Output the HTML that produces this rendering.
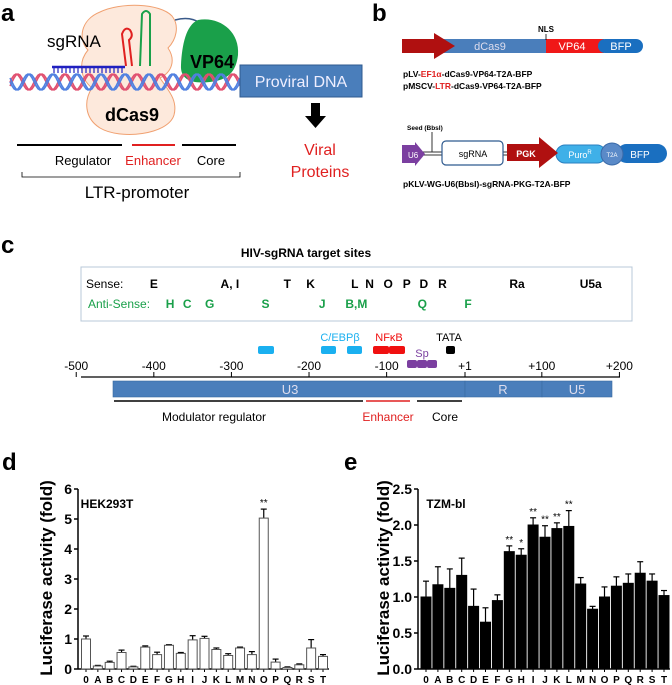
<!DOCTYPE html>
<html><head><meta charset="utf-8"><style>
html,body{margin:0;padding:0;background:#fff}
svg{display:block;font-family:"Liberation Sans",Arial,sans-serif}
.b{font-weight:bold}
</style></head><body>
<svg id="fig" width="672" height="685" viewBox="0 0 672 685" xmlns="http://www.w3.org/2000/svg">
<!-- Panel a -->
<g>
<text x="1" y="21" font-size="24" class="b">a</text>
<path d="M100,12 C120,2 160,3 172,16 C180,26 176,40 168,48 C176,60 172,72 160,78 C168,90 178,100 174,115 C168,135 120,140 100,128 C84,118 84,100 92,88 C80,78 78,62 88,50 C78,40 80,20 100,12 Z" fill="#fde9dc" stroke="#f0a070" stroke-width="1"/>
<path d="M175,20 Q190,16 200,23" fill="none" stroke="#3a5a8a" stroke-width="1.5"/>
<path d="M198,20 C218,16 240,30 238,55 C236,72 228,80 210,82 C192,84 180,80 181,65 C182,45 186,25 198,20 Z" fill="#1aa04a"/>
<text x="212" y="68" font-size="18" class="b" text-anchor="middle">VP64</text>
<text x="47" y="47" font-size="17">sgRNA</text>
<text x="132" y="121" font-size="18" class="b" text-anchor="middle">dCas9</text>
<g>
<path d="M126,66 L122,34 Q125,26 130,30 Q134,36 129,40 L132,66" fill="none" stroke="#e02020" stroke-width="2"/>
<path d="M140,66 L142,14 Q146,8 150,14 L150,66" fill="none" stroke="#1aa04a" stroke-width="2"/>
</g>
<line x1="52" y1="67" x2="125" y2="67" stroke="#2020c0" stroke-width="2.5"/>
<g id="comb"></g>
<g id="helix"></g>
<rect x="240" y="65" width="122" height="32" fill="#4a7ebb" stroke="#2f5a8f"/>
<text x="301" y="87" font-size="16" fill="#eef" text-anchor="middle">Proviral DNA</text>
<path d="M311,103 h9 v13 h6 l-10.5,12 l-10.5,-12 h6 Z" fill="#000"/>
<text x="320" y="155" font-size="16" fill="#e02020" text-anchor="middle">Viral</text>
<text x="320" y="177" font-size="16" fill="#e02020" text-anchor="middle">Proteins</text>
<line x1="17" y1="145" x2="122" y2="145" stroke="#000" stroke-width="2"/>
<line x1="132" y1="145" x2="175" y2="145" stroke="#e02020" stroke-width="2"/>
<line x1="182" y1="145" x2="236" y2="145" stroke="#000" stroke-width="2"/>
<text x="83" y="165" font-size="13" text-anchor="middle">Regulator</text>
<text x="153" y="165" font-size="13" fill="#e02020" text-anchor="middle">Enhancer</text>
<text x="211" y="165" font-size="13" text-anchor="middle">Core</text>
<path d="M22,172 v5 h218 v-5" fill="none" stroke="#000" stroke-width="0.8"/>
<text x="137" y="198" font-size="17" text-anchor="middle">LTR-promoter</text>
</g>
<!-- Panel b -->
<g>
<text x="372" y="21" font-size="24" class="b">b</text>
<rect x="440" y="39" width="110" height="14" fill="#4a7ebb"/>
<text x="490" y="50" font-size="11" fill="#dde" text-anchor="middle">dCas9</text>
<rect x="546" y="39" width="58" height="14" fill="#f01818"/>
<text x="572" y="50" font-size="11" fill="#fff" text-anchor="middle">VP64</text>
<rect x="598" y="39" width="45" height="14" rx="7" fill="#1a6fc0"/>
<text x="621" y="50" font-size="11" fill="#fff" text-anchor="middle">BFP</text>
<path d="M402,39 h32 v-6 l21,13 l-21,13 v-6 h-32 Z" fill="#b01010"/>
<line x1="546" y1="34" x2="546" y2="40" stroke="#000" stroke-width="0.8"/>
<text x="546" y="32" font-size="8" class="b" text-anchor="middle">NLS</text>
<text x="403" y="77" font-size="8.5" class="b">pLV-<tspan fill="#e02020">EF1α</tspan>-dCas9-VP64-T2A-BFP</text>
<text x="403" y="89" font-size="8.5" class="b">pMSCV-<tspan fill="#e02020">LTR</tspan>-dCas9-VP64-T2A-BFP</text>
<text x="407" y="130" font-size="6.5" class="b">Seed (BbsI)</text>
<line x1="432" y1="132" x2="432" y2="152" stroke="#000" stroke-width="0.8"/>
<line x1="420" y1="152" x2="442" y2="152" stroke="#333" stroke-width="1"/>
<line x1="420" y1="155" x2="442" y2="155" stroke="#333" stroke-width="1"/>
<line x1="503" y1="152" x2="507" y2="152" stroke="#333" stroke-width="1"/>
<line x1="503" y1="155" x2="507" y2="155" stroke="#333" stroke-width="1"/>
<path d="M402,145 h13 v-3 l10,12 l-10,12 v-3 h-13 Z" fill="#7b3fa0"/>
<text x="408" y="158" font-size="8" fill="#fff">U6</text>
<rect x="442" y="141" width="61" height="24" rx="4" fill="#fff" stroke="#2f5a8f" stroke-width="1.2"/>
<text x="473" y="157" font-size="9" text-anchor="middle">sgRNA</text>
<rect x="556" y="145" width="50" height="18" rx="9" fill="#3fb0e8" stroke="#2a7fc0"/>
<text x="580" y="158" font-size="9" fill="#fff" text-anchor="middle">Puro<tspan font-size="6" dy="-4">R</tspan></text>
<rect x="617" y="144" width="50" height="19" rx="9.5" fill="#1a6fc0"/>
<text x="640" y="158" font-size="10" fill="#fff" text-anchor="middle">BFP</text>
<circle cx="612" cy="154" r="11" fill="#5a8ac8" stroke="#3a6aa8"/>
<text x="612" y="157" font-size="6" fill="#fff" text-anchor="middle">T2A</text>
<path d="M507,144 h32 v-7 l19,16 l-19,15 v-7 h-32 Z" fill="#b01010"/>
<text x="526" y="157" font-size="9" class="b" fill="#fff" text-anchor="middle">PGK</text>
<text x="403" y="187" font-size="8.5" class="b">pKLV-WG-U6(BbsI)-sgRNA-PKG-T2A-BFP</text>
</g>
<!-- Panel c -->
<g>
<text x="1" y="253" font-size="24" class="b">c</text>
<text x="306" y="257" font-size="12" class="b" text-anchor="middle">HIV-sgRNA target sites</text>
<rect x="81" y="267" width="551" height="54" fill="#fff" stroke="#b8c8d8"/>
<text x="86" y="288" font-size="12">Sense:</text>
<text x="88" y="308" font-size="12" fill="#1aa04a">Anti-Sense:</text>
<g id="sites"></g>
<g>
<rect x="258" y="346" width="16" height="8" rx="2" fill="#1ab0f0"/>
<rect x="321" y="346" width="15" height="8" rx="2" fill="#1ab0f0"/>
<rect x="347" y="346" width="15" height="8" rx="2" fill="#1ab0f0"/>
<rect x="373" y="346" width="16" height="8" rx="2" fill="#f01010"/>
<rect x="389" y="346" width="16" height="8" rx="2" fill="#f01010"/>
<rect x="407" y="360" width="10" height="8" rx="2" fill="#7b3fa0"/>
<rect x="417" y="360" width="10" height="8" rx="2" fill="#7b3fa0"/>
<rect x="427" y="360" width="10" height="8" rx="2" fill="#7b3fa0"/>
<rect x="446" y="346" width="9" height="8" rx="2" fill="#000"/>
<text x="340" y="341" font-size="11" fill="#1ab0f0" text-anchor="middle">C/EBPβ</text>
<text x="389" y="341" font-size="11" fill="#f01010" text-anchor="middle">NFκB</text>
<text x="449" y="341" font-size="11" text-anchor="middle">TATA</text>
<text x="422" y="357" font-size="11" fill="#7b3fa0" text-anchor="middle">Sp</text>
</g>
<line x1="81" y1="377" x2="620" y2="377" stroke="#000" stroke-width="1.2"/>
<g id="posticks"></g>
<rect x="113" y="381" width="352" height="16" fill="#4a7ebb" stroke="#3a6aa0" stroke-width="0.6"/>
<rect x="465" y="381" width="77" height="16" fill="#4a7ebb" stroke="#3a6aa0" stroke-width="0.6"/>
<rect x="542" y="381" width="70" height="16" fill="#4a7ebb" stroke="#3a6aa0" stroke-width="0.6"/>
<text x="290" y="394" font-size="13" fill="#dde" text-anchor="middle">U3</text>
<text x="503" y="394" font-size="13" fill="#dde" text-anchor="middle">R</text>
<text x="577" y="394" font-size="13" fill="#dde" text-anchor="middle">U5</text>
<line x1="114" y1="401" x2="363" y2="401" stroke="#000" stroke-width="1.5"/>
<line x1="366" y1="401" x2="410" y2="401" stroke="#e02020" stroke-width="1.5"/>
<line x1="417" y1="401" x2="462" y2="401" stroke="#000" stroke-width="1.5"/>
<text x="214" y="421" font-size="12" text-anchor="middle">Modulator regulator</text>
<text x="388" y="421" font-size="12" fill="#e02020" text-anchor="middle">Enhancer</text>
<text x="445" y="421" font-size="12" text-anchor="middle">Core</text>
</g>
<!-- Panel d -->
<g id="panelD">
<text x="2" y="470" font-size="24" class="b">d</text>
<text transform="translate(52,578) rotate(-90)" font-size="17" class="b" text-anchor="middle">Luciferase activity (fold)</text>
<text x="107" y="508" font-size="12" class="b" text-anchor="middle">HEK293T</text>
</g>
<!-- Panel e -->
<g id="panelE">
<text x="344" y="470" font-size="24" class="b">e</text>
<text transform="translate(389,578) rotate(-90)" font-size="17" class="b" text-anchor="middle">Luciferase activity (fold)</text>
<text x="446" y="508" font-size="12" class="b" text-anchor="middle">TZM-bl</text>
</g>
</svg>
<script>
const categories = ['0','A','B','C','D','E','F','G','H','I','J','K','L','M','N','O','P','Q','R','S','T'];
const hekValues = [1.0,0.1,0.22,0.55,0.07,0.73,0.48,0.79,0.52,0.97,1.02,0.65,0.45,0.7,0.48,5.03,0.23,0.05,0.14,0.7,0.42];
const hekErrors = [0.1,0.02,0.04,0.08,0.02,0.04,0.08,0.02,0.03,0.14,0.07,0.05,0.06,0.03,0.1,0.3,0.1,0.02,0.03,0.28,0.06];
const hekStars = ['','','','','','','','','','','','','','','','**','','','','',''];
const hekTicks = [0,1,2,3,4,5,6];
const tzmValues = [1.0,1.17,1.12,1.3,0.87,0.65,0.95,1.63,1.58,2.0,1.83,1.95,1.98,1.18,0.83,1.0,1.15,1.19,1.33,1.22,1.02];
const tzmErrors = [0.22,0.25,0.27,0.24,0.24,0.2,0.08,0.08,0.09,0.1,0.16,0.08,0.22,0.09,0.04,0.14,0.13,0.13,0.16,0.1,0.07];
const tzmStars = ['','','','','','','','**','*','**','**','**','**','','','','','','','',''];
const tzmTicks = ['0.0','0.5','1.0','1.5','2.0','2.5'];
const posTicks = ['-500','-400','-300','-200','-100','+1','+100','+200'];
const senseSites = [['E',-400],['A, I',-302],['T',-228],['K',-198],['L',-141],['N',-122],['O',-98],['P',-74],['D',-52],['R',-28],['Ra',68],['U5a',163]];
const antiSites = [['H',-379],['C',-357],['G',-328],['S',-256],['J',-183],['B,M',-139],['Q',-54],['F',5]];

const NS='http://www.w3.org/2000/svg';
function mk(tag,attrs,parent){const e=document.createElementNS(NS,tag);for(const k in attrs)e.setAttribute(k,attrs[k]);parent.appendChild(e);return e;}

// helix
const hx=document.getElementById('helix');
function wave(phase,color){let d='';for(let x=10;x<=240;x+=2){const y=82+8*Math.sin((x/12)*Math.PI+phase);d+=(x>10?'L':'M')+x+','+y.toFixed(1);}mk('path',{d:d,fill:'none',stroke:color,'stroke-width':1.6},hx);}
wave(0,'#e05070');wave(0.5,'#e05070');wave(Math.PI,'#5080e0');wave(Math.PI+0.5,'#5080e0');
const cb=document.getElementById('comb');
for(let x=54;x<=124;x+=4){mk('line',{x1:x,y1:67,x2:x,y2:73,stroke:'#2020c0','stroke-width':1.2},cb);}

// position axis
const posX=v=>465+(v-1)*0.776;
const pt=document.getElementById('posticks');
posTicks.forEach(t=>{const v=parseInt(t,10);const x=posX(v);
 mk('line',{x1:x,y1:372,x2:x,y2:377,stroke:'#000'},pt);
 const tx=mk('text',{x:x,y:370,'font-size':12,'text-anchor':'middle'},pt);tx.textContent=t;});
const st=document.getElementById('sites');
senseSites.forEach(s=>{const t=mk('text',{x:posX(s[1]),y:288,'font-size':12,'font-weight':'bold','text-anchor':'middle'},st);
 
 
 t.textContent=s[0];});
antiSites.forEach(s=>{const t=mk('text',{x:posX(s[1]),y:308,'font-size':12,'font-weight':'bold',fill:'#1aa04a','text-anchor':'middle'},st);
 
 
 t.textContent=s[0];});

function barChart(g,opt){
 const y0=669,y1=489;const ys=v=>y0-(v/opt.max)*(y0-y1);
 const xs=i=>opt.x0+i*opt.step;
 mk('line',{x1:opt.ax,y1:y1,x2:opt.ax,y2:y0,stroke:'#000','stroke-width':1.5},g);
 mk('line',{x1:opt.ax,y1:y0,x2:xs(categories.length-1)+opt.step/2,y2:y0,stroke:'#000','stroke-width':1.5},g);
 opt.ticks.forEach(t=>{const y=ys(parseFloat(t));mk('line',{x1:opt.ax-4,y1:y,x2:opt.ax,y2:y,stroke:'#000','stroke-width':1.5},g);
  const tx=mk('text',{x:opt.ax-6,y:y+5,'font-size':14,'font-weight':'bold','text-anchor':'end'},g);tx.textContent=t;});
 categories.forEach((c,i)=>{const x=xs(i);
  mk('line',{x1:x,y1:y0,x2:x,y2:y0+3,stroke:'#000'},g);
  const lt=mk('text',{x:x,y:y0+14,'font-size':10,'font-weight':'bold','text-anchor':'middle'},g);lt.textContent=c;
  const v=opt.vals[i],e=opt.errs[i];
  mk('line',{x1:x,y1:ys(v),x2:x,y2:ys(v+e),stroke:'#000','stroke-width':1.2},g);
  mk('line',{x1:x-3,y1:ys(v+e),x2:x+3,y2:ys(v+e),stroke:'#000','stroke-width':1.2},g);
  const r=mk('rect',{x:x-opt.bw/2,y:ys(v),width:opt.bw,height:y0-ys(v),fill:opt.fill,stroke:opt.stroke,'stroke-width':1},g);
  
  
  if(opt.stars[i]){const s=mk('text',{x:x,y:ys(v+e)-3,'font-size':10,'text-anchor':'middle'},g);s.textContent=opt.stars[i];}
 });
}
barChart(document.getElementById('panelD'),{id:'hek',ax:78,x0:86,step:11.85,bw:9,max:6,ticks:hekTicks.map(String),vals:hekValues,errs:hekErrors,stars:hekStars,fill:'#fff',stroke:'#555'});
barChart(document.getElementById('panelE'),{id:'tzm',ax:418,x0:426,step:11.9,bw:10,max:2.5,ticks:tzmTicks,vals:tzmValues,errs:tzmErrors,stars:tzmStars,fill:'#000',stroke:'#000'});
</script>
</body></html>
